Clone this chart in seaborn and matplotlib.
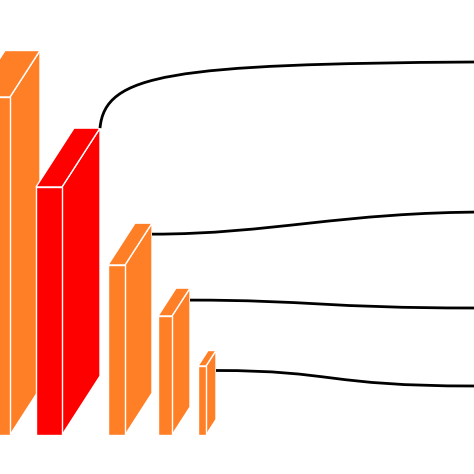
import numpy as np
import matplotlib.pyplot as plt
import seaborn as sns
from matplotlib.patches import Polygon
from matplotlib.path import Path
from matplotlib.patches import PathPatch

sns.set_style("white")

# bar data (front left x, width, height, depth)
bar_left = [-25, 36, 108, 158, 198]
bar_width = [35, 26, 17, 14, 8]
bar_height = [338, 248, 170, 119, 69]
bar_depth = [30, 38, 27, 18, 10]
bar_colors = ['#ff7f27', '#ff0000', '#ff7f27', '#ff7f27', '#ff7f27']
# connector label anchors (right side), per bar (first has none)
label_y = [None, 412, 262, 166, 88]
label_x = [None, 474, 490, 474, 474]
# how far below the top-back corner each connector starts
line_drop = [0, 0, 11, 12, 20]
baseline = 39
slope = 1.55

fig = plt.figure(figsize=(4.74, 4.74), dpi=100)
ax = fig.add_axes([0, 0, 1, 1])
ax.set_xlim(0, 474)
ax.set_ylim(0, 474)
ax.axis('off')

ax.bar(bar_left, bar_height, width=bar_width, bottom=baseline, align='edge',
       color=bar_colors, edgecolor='white', linewidth=1, zorder=3)

for x, w, h, d, c in zip(bar_left, bar_width, bar_height, bar_depth, bar_colors):
    top = baseline + h
    dy = d * slope
    side = [(x + w, baseline), (x + w + d, baseline + dy), (x + w + d, top + dy), (x + w, top)]
    roof = [(x, top), (x + d, top + dy), (x + w + d, top + dy), (x + w, top)]
    ax.add_patch(Polygon(side, closed=True, facecolor=c, edgecolor='white', lw=1, zorder=2))
    ax.add_patch(Polygon(roof, closed=True, facecolor=c, edgecolor='white', lw=1, zorder=2))

for i in range(1, len(bar_left)):
    x0 = bar_left[i] + bar_width[i] + bar_depth[i]
    y0 = baseline + bar_height[i] + bar_depth[i] * slope - line_drop[i]
    x1, y1 = label_x[i], label_y[i]
    if i == 1:
        verts = [(x0, y0), (x0 + 5, y1 - 12), (x0 + 70, y1 - 2), (x1, y1)]
    else:
        verts = [(x0, y0), (x0 + 120, y0), (x1 - 150, y1), (x1, y1)]
    p = Path(verts, [Path.MOVETO, Path.CURVE4, Path.CURVE4, Path.CURVE4])
    ax.add_patch(PathPatch(p, facecolor='none', edgecolor='black', lw=2, zorder=4))

fig.savefig('out.png', dpi=100)
